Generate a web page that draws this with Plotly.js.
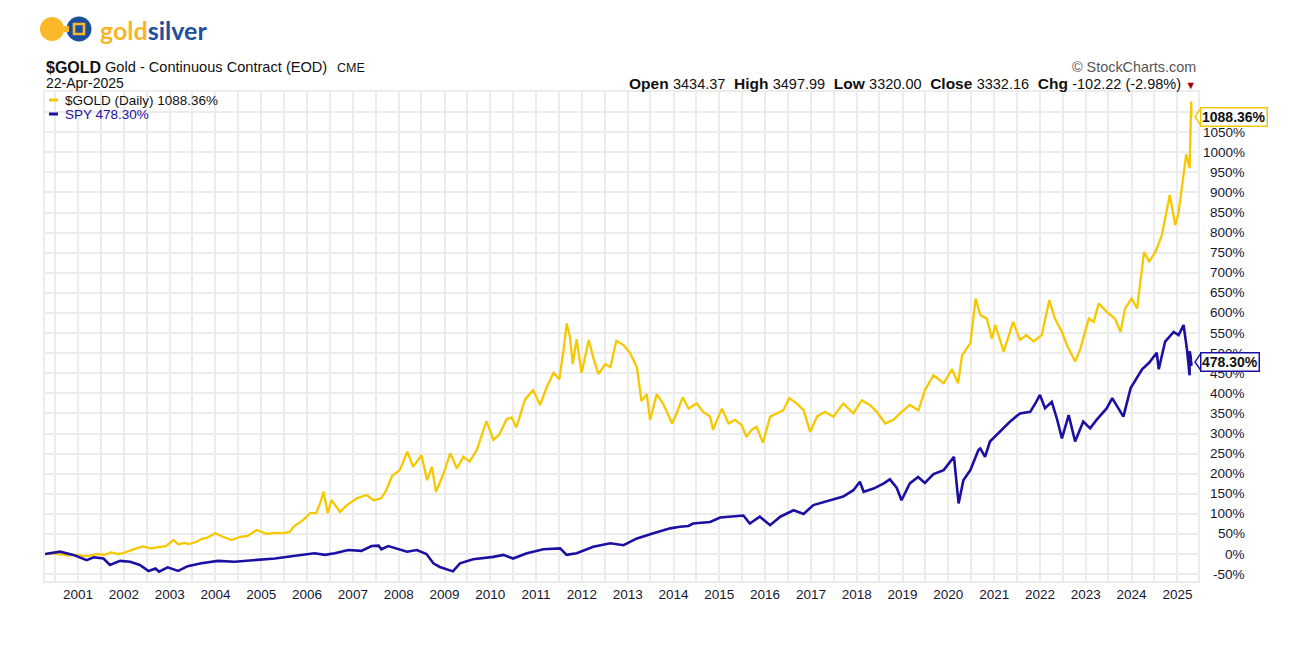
<!DOCTYPE html>
<html>
<head>
<meta charset="utf-8">
<script src="https://cdn.plot.ly/plotly-3.0.1.min.js"></script>
<style>
  html, body { margin: 0; padding: 0; background: #ffffff; }
  #chart { width: 1292px; height: 650px; }
</style>
</head>
<body>
<div id="chart"></div>
<script>
// Percent change since the start of the window, gold continuous contract
const goldDates = [
  '2000-04-12','2000-06-15','2000-08-15','2000-10-15','2000-12-15','2001-02-15','2001-04-01','2001-06-01',
  '2001-08-01','2001-09-20','2001-11-15','2002-01-01','2002-03-01','2002-05-01','2002-06-01','2002-08-01',
  '2002-10-01','2002-12-01','2003-02-01','2003-03-10','2003-05-01','2003-06-01','2003-08-01','2003-09-15',
  '2003-10-25','2003-12-30','2004-03-01','2004-05-10','2004-07-15','2004-09-15','2004-11-25','2005-02-15',
  '2005-04-15','2005-06-25','2005-08-15','2005-09-15','2005-12-01','2006-01-25','2006-03-15','2006-04-15',
  '2006-05-12','2006-06-14','2006-07-15','2006-09-20','2006-11-15','2007-02-01','2007-04-20','2007-06-15',
  '2007-08-15','2007-09-25','2007-11-10','2008-01-10','2008-03-10','2008-04-25','2008-07-01','2008-08-15',
  '2008-09-22','2008-10-24','2008-12-25','2009-02-15','2009-04-10','2009-05-30','2009-07-20','2009-09-15',
  '2009-12-01','2010-01-25','2010-03-15','2010-05-10','2010-06-20','2010-07-28','2010-10-05','2010-12-08',
  '2011-02-01','2011-03-25','2011-05-20','2011-07-05','2011-08-08','2011-09-02','2011-09-28','2011-10-20',
  '2011-11-20','2011-12-30','2012-02-25','2012-04-01','2012-05-12','2012-07-05','2012-08-15','2012-10-02',
  '2012-11-28','2013-01-20','2013-03-15','2013-04-20','2013-06-01','2013-06-28','2013-08-20','2013-10-12',
  '2013-12-20','2014-01-25','2014-03-15','2014-05-01','2014-07-05','2014-08-25','2014-10-20','2014-11-12',
  '2014-12-25','2015-01-22','2015-03-15','2015-05-05','2015-06-28','2015-08-05','2015-09-15','2015-10-25',
  '2015-12-15','2016-02-10','2016-04-01','2016-05-25','2016-07-12','2016-09-08','2016-11-03','2016-12-25',
  '2017-02-18','2017-04-22','2017-06-28','2017-09-15','2017-12-05','2018-02-10','2018-04-15','2018-06-10',
  '2018-08-15','2018-10-20','2018-12-25','2019-02-28','2019-05-08','2019-06-28','2019-09-05','2019-11-25',
  '2020-01-30','2020-03-19','2020-04-20','2020-06-25','2020-08-06','2020-09-12','2020-11-03','2020-12-14',
  '2021-01-10','2021-03-17','2021-06-01','2021-07-25','2021-09-15','2021-11-10','2022-01-15','2022-03-16',
  '2022-04-30','2022-06-25','2022-08-04','2022-10-08','2022-11-18','2023-01-25','2023-03-05','2023-04-14',
  '2023-06-18','2023-08-22','2023-10-05','2023-11-10','2024-01-01','2024-02-14','2024-04-10','2024-05-20',
  '2024-07-10','2024-08-30','2024-11-01','2024-12-14','2025-01-08','2025-02-18','2025-03-12','2025-04-08',
  '2025-04-17','2025-04-21','2025-04-22'
];
const goldPct = [
  0, 2, -1, -3, -2, -5, -4, 0,
  -2, 4, 0, 3, 10, 15, 19, 14,
  17, 20, 35, 24, 28, 25, 30, 38,
  40, 52, 43, 35, 43, 45, 60, 50,
  53, 52, 55, 68, 85, 102, 102, 127,
  155, 102, 134, 105, 122, 139, 147, 134,
  139, 159, 195, 209, 255, 217, 246, 184,
  217, 155, 201, 251, 213, 242, 230, 259,
  331, 284, 298, 335, 340, 315, 385, 408,
  371, 414, 451, 435, 508, 574, 540, 473,
  535, 451, 533, 489, 448, 473, 465, 531,
  520, 500, 465, 381, 398, 334, 398, 373,
  325, 350, 390, 362, 375, 354, 342, 309,
  342, 362, 325, 334, 321, 292, 309, 317,
  277, 342, 350, 358, 388, 375, 358, 304,
  342, 354, 342, 375, 350, 383, 371, 354,
  325, 334, 354, 371, 358, 408, 445, 425,
  460, 425, 495, 525, 636, 595, 586, 536,
  570, 504, 578, 533, 545, 529, 545, 632,
  586, 553, 520, 479, 510, 586, 578, 624,
  603, 586, 553, 611, 636, 611, 752, 728,
  752, 794, 894, 819, 846, 935, 995, 960,
  1100, 1126, 1088.36
];

// Percent change since the start of the window, SPY
const spyDates = [
  '2000-04-12','2000-08-10','2000-11-24','2001-03-10','2001-05-05','2001-07-22','2001-09-12','2001-12-02',
  '2002-02-20','2002-05-08','2002-07-17','2002-09-10','2002-10-09','2002-12-16','2003-03-10','2003-05-25',
  '2003-09-10','2004-01-22','2004-06-01','2004-11-10','2005-04-20','2005-09-28','2006-03-03','2006-05-22',
  '2006-08-10','2006-11-25','2007-03-10','2007-05-30','2007-07-25','2007-08-16','2007-10-10','2008-03-08',
  '2008-05-25','2008-08-10','2008-10-04','2008-11-24','2009-03-09','2009-05-04','2009-08-17','2010-01-25',
  '2010-04-15','2010-07-01','2010-10-20','2011-02-28','2011-07-12','2011-09-01','2011-11-20','2012-04-01',
  '2012-08-15','2012-11-28','2013-03-15','2013-07-25','2013-12-05','2014-02-20','2014-05-01','2014-06-05',
  '2014-10-20','2015-01-08','2015-03-28','2015-07-12','2015-09-01','2015-11-20','2016-02-10','2016-05-01',
  '2016-08-15','2016-11-03','2017-01-20','2017-06-03','2017-09-15','2017-12-05','2018-01-26','2018-02-25',
  '2018-05-15','2018-08-05','2018-09-22','2018-11-15','2018-12-24','2019-02-28','2019-05-05','2019-06-28',
  '2019-09-05','2019-11-25','2020-02-15','2020-03-23','2020-04-30','2020-06-25','2020-08-28','2020-09-12',
  '2020-10-20','2020-11-28','2021-02-20','2021-05-08','2021-07-25','2021-10-15','2021-11-25','2022-01-01',
  '2022-02-10','2022-04-05','2022-05-15','2022-06-25','2022-08-18','2022-10-08','2022-12-12','2023-02-05',
  '2023-03-28','2023-06-18','2023-07-31','2023-10-28','2023-12-25','2024-03-25','2024-05-20','2024-07-20',
  '2024-08-05','2024-09-25','2024-12-02','2025-01-10','2025-02-19','2025-03-18','2025-04-08','2025-04-09',
  '2025-04-17','2025-04-21','2025-04-22'
];
const spyPct = [
  0, 6, -2, -15, -8, -11, -27, -17,
  -19, -27, -42, -36, -44, -33, -42, -30,
  -23, -17, -19, -15, -11, -4, 2, -2,
  2, 10, 8, 20, 21, 12, 20, 6,
  10, 0, -23, -32, -43, -23, -13, -7,
  -2, -11, 2, 12, 14, -2, 2, 18,
  27, 22, 39, 52, 64, 68, 70, 76,
  80, 91, 93, 96, 76, 93, 72, 93,
  109, 100, 122, 134, 143, 159, 180, 155,
  163, 176, 186, 165, 134, 176, 192, 177,
  199, 209, 242, 126, 184, 209, 259, 263,
  242, 280, 305, 330, 350, 354, 375, 396,
  363, 379, 338, 288, 346, 280, 330, 313,
  334, 363, 388, 342, 413, 460, 476, 501,
  460, 529, 553, 545, 570, 510, 445, 505,
  490, 468, 478.30
];

const yTicks = [-50, 0, 50, 100, 150, 200, 250, 300, 350, 400, 450, 500, 550, 600,
  650, 700, 750, 800, 850, 900, 950, 1000, 1050, 1100];

const goldName = '$GOLD (Daily)';
const spyName = 'SPY';
const quoteLabels = ['Open', 'High', 'Low', 'Close', 'Chg'];
const quoteValues = ['3434.37', '3497.99', '3320.00', '3332.16', '-102.22 (-2.98%)'];
const chartDate = '22-Apr-2025';

const GOLD = '#f5c800';
const BLUE = '#1c10a3';
const GRID = '#ececec';
const FONT = 'Liberation Sans, Arial, sans-serif';
const INK = '#161630';

const W = 1292, H = 650;
const M = { l: 45, r: 94, t: 92, b: 69 };
const PW = W - M.l - M.r, PH = H - M.t - M.b;
// page pixel -> paper coordinate helpers for decorations around the plot
const fx = px => (px - M.l) / PW;
const fy = py => (H - M.b - py) / PH;

const goldLast = goldPct[goldPct.length - 1];
const spyLast = spyPct[spyPct.length - 1];
const fmt = v => v.toFixed(2) + '%';

const traces = [
  { x: goldDates, y: goldPct, type: 'scatter', mode: 'lines', name: goldName,
    line: { color: GOLD, width: 2.3 }, hoverinfo: 'skip' },
  { x: spyDates, y: spyPct, type: 'scatter', mode: 'lines', name: spyName,
    line: { color: BLUE, width: 2.6 }, hoverinfo: 'skip' }
];

const annotations = [];
const ann = (o) => annotations.push(Object.assign({ showarrow: false, xref: 'paper', yref: 'paper',
  yanchor: 'middle', font: { family: FONT, size: 13, color: INK } }, o));

// right-hand axis labels, right aligned
yTicks.forEach(v => ann({ x: fx(1247), xanchor: 'right', yref: 'y', y: v, text: v + '%',
  font: { family: FONT, size: 13.5, color: INK } }));

// header
ann({ x: fx(98), y: fy(30), xanchor: 'left',
  text: '<b><span style="color:#f9b52a">gold</span><span style="color:#1f4f9d">silver</span></b>',
  font: { family: 'Lato, Open Sans, sans-serif', size: 25, color: '#1f4f9d' } });
ann({ x: fx(44), y: fy(67), xanchor: 'left', text: '<b>$GOLD</b>', font: { family: FONT, size: 16, color: '#111' } });
ann({ x: fx(103), y: fy(67), xanchor: 'left', text: 'Gold - Continuous Contract (EOD)',
  font: { family: FONT, size: 14.6, color: '#111' } });
ann({ x: fx(335), y: fy(68), xanchor: 'left', text: 'CME', font: { family: FONT, size: 12.5, color: '#111' } });
ann({ x: fx(44), y: fy(83), xanchor: 'left', text: chartDate, font: { family: FONT, size: 14, color: '#111' } });
ann({ x: fx(1198), y: fy(67), xanchor: 'right', text: '\u00a9\u00a0StockCharts.com',
  font: { family: FONT, size: 14.4, color: '#555' } });
const quoteText = quoteLabels.map((l, i) =>
  '<b>' + l + '</b>\u00a0<span style="font-size:14.5px">' + quoteValues[i] + '</span>').join('\u00a0\u00a0') +
  '\u00a0<span style="color:#a80000;font-size:11px">\u25bc</span>';
ann({ x: fx(1198), y: fy(83), xanchor: 'right', text: quoteText, font: { family: FONT, size: 15.5, color: '#111' } });

// legend
ann({ x: fx(63), y: fy(100), xanchor: 'left', text: goldName + ' ' + fmt(goldLast),
  font: { family: FONT, size: 13.5, color: '#111' } });
ann({ x: fx(63), y: fy(114), xanchor: 'left', text: spyName + ' ' + fmt(spyLast),
  font: { family: FONT, size: 13.5, color: BLUE } });

// last-value tags
ann({ x: fx(1200), xanchor: 'left', yref: 'y', y: goldLast, text: '<b>' + fmt(goldLast) + '</b>',
  bgcolor: '#ffffff', bordercolor: GOLD, borderwidth: 1.5, borderpad: 0.5,
  font: { family: FONT, size: 14, color: '#111' } });
ann({ x: fx(1200), xanchor: 'left', yref: 'y', y: spyLast, text: '<b>' + fmt(spyLast) + '</b>',
  bgcolor: '#ffffff', bordercolor: BLUE, borderwidth: 1.5, borderpad: 0.5,
  font: { family: FONT, size: 14, color: '#111' } });

const pxShape = (o) => Object.assign({ xref: 'paper', yref: 'paper', xsizemode: 'pixel', ysizemode: 'pixel' }, o);
const shapes = [
  // logo
  pxShape({ type: 'circle', xanchor: fx(52), yanchor: fy(29), x0: -12, x1: 12, y0: -12, y1: 12,
    fillcolor: '#fbb829', line: { width: 0 } }),
  pxShape({ type: 'circle', xanchor: fx(79), yanchor: fy(29), x0: -12.5, x1: 12.5, y0: -12.5, y1: 12.5,
    fillcolor: '#1e4f9c', line: { width: 0 } }),
  pxShape({ type: 'rect', xanchor: fx(66), yanchor: fy(29), x0: -2.5, x1: 3, y0: -3, y1: 3,
    fillcolor: '#fbb829', line: { width: 0 } }),
  pxShape({ type: 'rect', xanchor: fx(79), yanchor: fy(29), x0: -5, x1: 5, y0: -5, y1: 5,
    fillcolor: 'rgba(0,0,0,0)', line: { color: '#fbb829', width: 2.6 } }),
  // legend swatches
  pxShape({ type: 'line', xanchor: fx(49), yanchor: fy(100), x0: 0, x1: 9, y0: 0, y1: 0,
    line: { color: GOLD, width: 3 } }),
  pxShape({ type: 'line', xanchor: fx(49), yanchor: fy(114), x0: 0, x1: 9, y0: 0, y1: 0,
    line: { color: BLUE, width: 3 } }),
  // tag pointers
  { type: 'path', xref: 'paper', yref: 'y', xsizemode: 'pixel', ysizemode: 'pixel',
    xanchor: fx(1200), yanchor: goldLast, path: 'M 0.5,8 L -5,0 L 0.5,-8',
    fillcolor: '#ffffff', line: { color: GOLD, width: 1.5 } },
  { type: 'path', xref: 'paper', yref: 'y', xsizemode: 'pixel', ysizemode: 'pixel',
    xanchor: fx(1200), yanchor: spyLast, path: 'M 0.5,8 L -5,0 L 0.5,-8',
    fillcolor: '#ffffff', line: { color: BLUE, width: 1.5 } }
];

const layout = {
  width: W, height: H,
  margin: M,
  paper_bgcolor: '#ffffff', plot_bgcolor: '#ffffff',
  showlegend: false,
  xaxis: {
    type: 'date', range: ['2000-04-12', '2025-06-14'],
    tick0: '2001-01-01', dtick: 'M12', tickformat: '%Y', ticks: '',
    tickfont: { family: FONT, size: 13.5, color: INK },
    showgrid: true, gridcolor: GRID, gridwidth: 2,
    minor: { tick0: '2000-07-01', dtick: 'M6', showgrid: true, gridcolor: GRID, gridwidth: 2 },
    showline: true, linecolor: GRID, linewidth: 2, mirror: true, zeroline: false, fixedrange: true
  },
  yaxis: {
    side: 'right', range: [-67, 1150], tick0: 0, dtick: 50,
    showticklabels: false, ticks: '',
    showgrid: true, gridcolor: GRID, gridwidth: 2,
    showline: true, linecolor: GRID, linewidth: 2, mirror: true, zeroline: false, fixedrange: true
  },
  annotations: annotations,
  shapes: shapes
};

Plotly.newPlot('chart', traces, layout, { displayModeBar: false, staticPlot: true });
</script>
</body>
</html>
